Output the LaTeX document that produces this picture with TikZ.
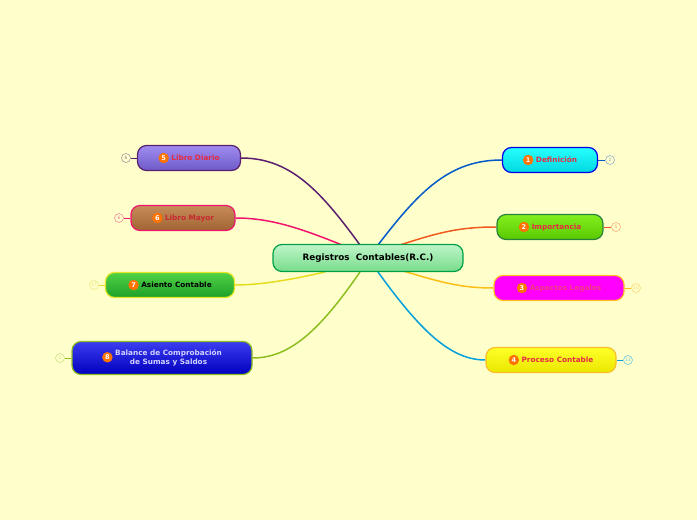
\documentclass[tikz,border=0pt]{standalone}
\usepackage{fontspec}
\setmainfont{DejaVu Sans}
\usetikzlibrary{backgrounds}
\definecolor{bg}{RGB}{255,255,204}
\definecolor{l1}{RGB}{0,90,200}
\definecolor{l2}{RGB}{240,90,30}
\definecolor{l3}{RGB}{250,190,20}
\definecolor{l4}{RGB}{0,160,220}
\definecolor{l5}{RGB}{90,30,110}
\definecolor{l6}{RGB}{240,20,110}
\definecolor{l7}{RGB}{230,220,30}
\definecolor{l8}{RGB}{140,190,30}
\definecolor{k1}{RGB}{130,160,210}
\definecolor{k2}{RGB}{250,160,110}
\definecolor{k3}{RGB}{250,210,110}
\definecolor{k4}{RGB}{100,190,220}
\definecolor{k5}{RGB}{150,130,150}
\definecolor{k6}{RGB}{245,120,150}
\definecolor{k7}{RGB}{235,230,120}
\definecolor{k8}{RGB}{200,220,120}
\definecolor{redtxt}{RGB}{228,45,65}
\begin{document}
\begin{tikzpicture}[x=1pt,y=-1pt,
 topic/.style={rounded corners=9pt,line width=1.2pt,minimum height=25pt,font=\bfseries\fontsize{7.3}{8.6}\selectfont,inner sep=2pt,align=center},
 num/.style={circle,fill=orange!90!red,text=white,font=\bfseries\fontsize{6.5}{7}\selectfont,inner sep=0pt,minimum size=10.5pt},
 cnt/.style={circle,draw,fill=bg,line width=0.5pt,inner sep=0pt,minimum size=9pt,font=\fontsize{4.5}{5}\selectfont},
 con/.style={line width=1.5pt},
 scon/.style={line width=1pt}]
\node[topic,draw={rgb,255:red,0;green,160;blue,70},top color={rgb,255:red,190;green,245;blue,200},bottom color={rgb,255:red,120;green,220;blue,140},minimum width=190pt,minimum height=27pt,font=\bfseries\fontsize{8.8}{10}\selectfont] (c) at (368,258) {Registros\ \ Contables(R.C.)};
\coordinate (c1) at (378,245); \coordinate (c2) at (400,245); \coordinate (c3) at (400,270); \coordinate (c4) at (378,272);
\coordinate (c5) at (360,245); \coordinate (c6) at (342,245); \coordinate (c7) at (325,272); \coordinate (c8) at (360,272);
% right
\node[topic,draw={rgb,255:red,0;green,0;blue,230},top color={rgb,255:red,40;green,255;blue,255},bottom color={rgb,255:red,0;green,215;blue,225},minimum width=95pt,text=redtxt] (n1) at (550,160) {\tikz[baseline=-2.5pt]\node[num]{1}; Definición};
\node[topic,draw={rgb,255:red,40;green,130;blue,60},top color={rgb,255:red,130;green,240;blue,30},bottom color={rgb,255:red,90;green,200;blue,0},minimum width=106pt,text=redtxt] (n2) at (550,227) {\tikz[baseline=-2.5pt]\node[num]{2}; Importancia};
\node[topic,draw={rgb,255:red,255;green,190;blue,40},fill={rgb,255:red,255;green,0;blue,255},minimum width=130pt,text={rgb,255:red,240;green,60;blue,130}] (n3) at (559,288) {\tikz[baseline=-2.5pt]\node[num]{3}; Aspectos Legales};
\node[topic,draw={rgb,255:red,250;green,190;blue,40},top color={rgb,255:red,255;green,255;blue,40},bottom color={rgb,255:red,235;green,230;blue,0},minimum width=130pt,text=redtxt] (n4) at (551,360) {\tikz[baseline=-2.5pt]\node[num]{4}; Proceso Contable};
% left
\node[topic,draw={rgb,255:red,90;green,30;blue,110},top color={rgb,255:red,160;green,140;blue,240},bottom color={rgb,255:red,110;green,90;blue,200},minimum width=103pt,text=redtxt] (n5) at (189,158) {\tikz[baseline=-2.5pt]\node[num]{5}; Libro Diario};
\node[topic,draw={rgb,255:red,240;green,20;blue,110},top color={rgb,255:red,200;green,140;blue,90},bottom color={rgb,255:red,160;green,100;blue,50},minimum width=104pt,text={rgb,255:red,200;green,40;blue,50}] (n6) at (183,218) {\tikz[baseline=-2.5pt]\node[num]{6}; Libro Mayor};
\node[topic,draw={rgb,255:red,230;green,230;blue,40},top color={rgb,255:red,80;green,210;blue,70},bottom color={rgb,255:red,30;green,160;blue,40},minimum width=129pt,text=black] (n7) at (170,285) {\tikz[baseline=-2.5pt]\node[num]{7}; Asiento Contable};
\node[topic,draw={rgb,255:red,140;green,190;blue,30},top color={rgb,255:red,60;green,60;blue,240},bottom color={rgb,255:red,0;green,0;blue,190},minimum width=180pt,minimum height=33pt,text={rgb,255:red,210;green,210;blue,255}] (n8) at (162,358) {\tikz[baseline=-2.5pt]\node[num]{8};\ \begin{tabular}{@{}c@{}}Balance de Comprobación\\de Sumas y Saldos\end{tabular}};
% counts
\node[cnt,draw=k1,text=k1] (q1) at (610,160) {2};
\node[cnt,draw=k2,text=k2] (q2) at (616,227) {5};
\node[cnt,draw=k3,text=k3] (q3) at (636,288) {10};
\node[cnt,draw=k4,text=k4] (q4) at (628,360) {13};
\node[cnt,draw=k5,text=k5] (q5) at (126,158) {6};
\node[cnt,draw=k6,text=k6] (q6) at (119,218) {6};
\node[cnt,draw=k7,text=k7] (q7) at (94,285) {17};
\node[cnt,draw=k8,text=k8] (q8) at (60,358) {2};
\begin{scope}[on background layer]
\fill[bg] (0,0) rectangle (697,520);
\draw[scon,l1] (n1.east) -- (q1);
\draw[scon,l2] (n2.east) -- (q2);
\draw[scon,l3] (n3.east) -- (q3);
\draw[scon,l4] (n4.east) -- (q4);
\draw[scon,l5] (n5.west) -- (q5);
\draw[scon,l6] (n6.west) -- (q6);
\draw[scon,l7] (n7.west) -- (q7);
\draw[scon,l8] (n8.west) -- (q8);
\draw[con,l1] (c1) .. controls (420,190) and (450,160) .. (n1.west);
\draw[con,l2] (c2) .. controls (440,232) and (460,227) .. (n2.west);
\draw[con,l3] (c3) .. controls (440,282) and (460,288) .. (n3.west);
\draw[con,l4] (c4) .. controls (420,330) and (450,360) .. (n4.west);
\draw[con,l5] (c5) .. controls (320,190) and (290,158) .. (n5.east);
\draw[con,l6] (c6) .. controls (300,228) and (270,218) .. (n6.east);
\draw[con,l7] (c7) .. controls (290,280) and (260,285) .. (n7.east);
\draw[con,l8] (c8) .. controls (320,330) and (290,358) .. (n8.east);
\end{scope}
\end{tikzpicture}
\end{document}
